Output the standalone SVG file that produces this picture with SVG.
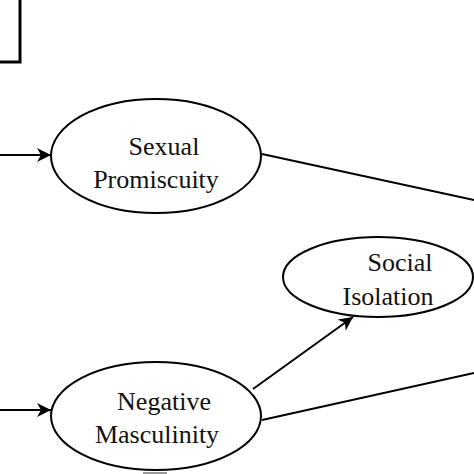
<svg xmlns="http://www.w3.org/2000/svg" width="474" height="474" viewBox="0 0 474 474">
<style>
.node{fill:#fff;stroke:#000;stroke-width:2}
.lbl{font-family:"Liberation Serif","Times New Roman",serif;font-size:26px;fill:#111;text-anchor:middle}
.edge{stroke:#000;stroke-width:2;fill:none}
.arr{marker-end:url(#ah)}
</style>
<defs>
<marker id="ah" markerUnits="userSpaceOnUse" markerWidth="16" markerHeight="14" refX="14" refY="7" orient="auto">
<path d="M0,0 L14,7 L0,14 L4,7 Z" fill="#000"/>
</marker>
</defs>
<rect x="-10" y="-10" width="474" height="474" fill="#fff"/>
<g id="box">
<rect x="-5" y="-5" width="25" height="67" fill="#fff" stroke="#000" stroke-width="3"/>
</g>
<g id="connectors">
<line class="edge arr" x1="0" y1="155" x2="51" y2="155"/>
<line class="edge arr" x1="0" y1="410" x2="51" y2="410"/>
<line class="edge" x1="262" y1="154" x2="474" y2="200"/>
<line class="edge" x1="262" y1="420" x2="474" y2="373"/>
<line class="edge arr" x1="253" y1="389" x2="353" y2="317"/>
</g>
<g id="sexual-promiscuity">
<ellipse class="node" cx="156" cy="156" rx="105" ry="57"/>
<text class="lbl" x="164" y="155">Sexual</text>
<text class="lbl" x="156" y="188">Promiscuity</text>
</g>
<g id="social-isolation">
<ellipse class="node" cx="378" cy="277" rx="95" ry="40"/>
<text class="lbl" x="400" y="271">Social</text>
<text class="lbl" x="388" y="305">Isolation</text>
</g>
<g id="negative-masculinity">
<ellipse class="node" cx="156" cy="416" rx="105" ry="54"/>
<text class="lbl" x="164" y="410">Negative</text>
<text class="lbl" x="157" y="443">Masculinity</text>
</g>
<rect x="143" y="472" width="24" height="2" fill="#999"/>
</svg>
